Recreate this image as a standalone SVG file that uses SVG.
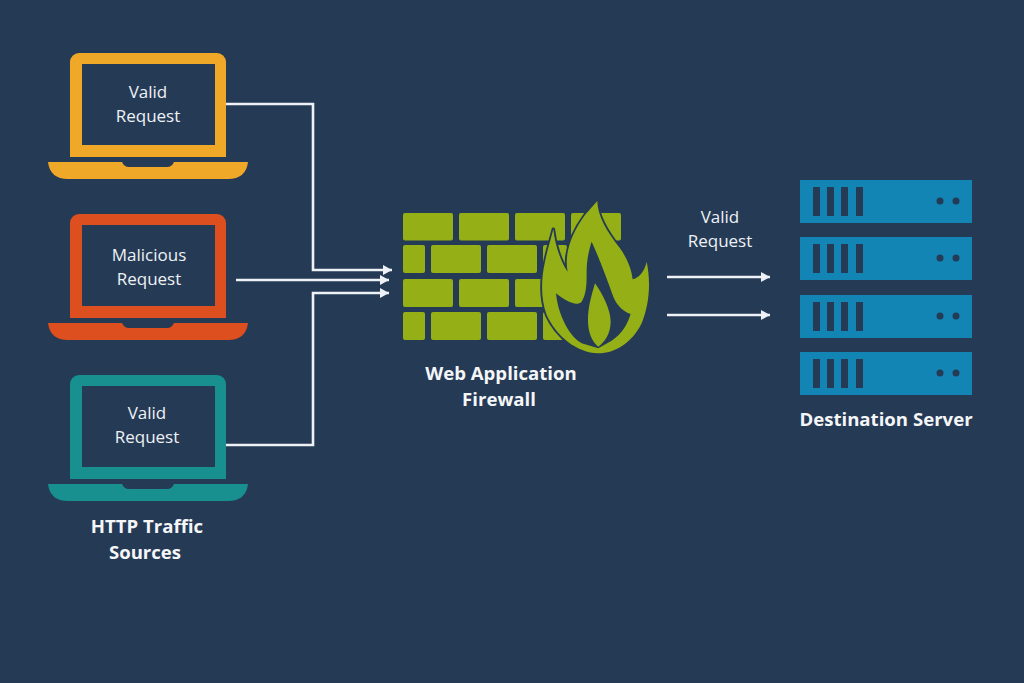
<svg xmlns="http://www.w3.org/2000/svg" width="1024" height="683" viewBox="0 0 1024 683">
<style>
.t{font-family:"Open Sans","Noto Sans","Liberation Sans",sans-serif;fill:#eef2f5;text-anchor:middle;font-size:17px;font-weight:500}
.b{font-family:"Open Sans","Noto Sans","Liberation Sans",sans-serif;fill:#f4f6f8;text-anchor:middle;font-size:18.600px;font-weight:700}
.c{fill:none;stroke:#eef2f6;stroke-width:2.6}
.br{fill:#94b016}
.sv{fill:#1285b5}
.d{fill:#253a55}
</style>
<defs>
<marker id="a" markerUnits="userSpaceOnUse" markerWidth="12" markerHeight="12" refX="9" refY="5" orient="auto"><path d="M0 0L9 5L0 10Z" fill="#eef2f6"/></marker>
<g id="lap">
<path d="M70 62a9 9 0 0 1 9-9H217a9 9 0 0 1 9 9V157H70Z"/>
<path d="M48 162H122q2 5 7 5H167q5 0 7-5H248q-2 17-20 17H68q-18 0-20-17Z"/>
<rect class="d" x="82" y="64" width="133" height="81"/>
</g>
<g id="srv">
<rect class="sv" x="800" y="180" width="172" height="43"/>
<rect class="d" x="813" y="187" width="7" height="29"/>
<rect class="d" x="827" y="187" width="7" height="29"/>
<rect class="d" x="841" y="187" width="7" height="29"/>
<rect class="d" x="856" y="187" width="7" height="29"/>
<circle class="d" cx="940" cy="201" r="3.500"/>
<circle class="d" cx="956" cy="201" r="3.500"/>
</g>
</defs>
<rect width="1024" height="683" fill="#253a55"/>
<g id="connectors">
<path class="c" d="M226 104H313V270H392" marker-end="url(#a)"/>
<path class="c" d="M236 280H389" marker-end="url(#a)"/>
<path class="c" d="M226 445H313V293H389" marker-end="url(#a)"/>
<path class="c" d="M667 277H770" marker-end="url(#a)"/>
<path class="c" d="M667 315H770" marker-end="url(#a)"/>
</g>
<g id="laptop-valid-1">
<use href="#lap" fill="#f0a828"/>
<text class="t" x="148" y="98">Valid</text>
<text class="t" x="148" y="122">Request</text>
</g>
<g id="laptop-malicious">
<use href="#lap" y="161" fill="#dd4f1f"/>
<text class="t" x="149" y="261">Malicious</text>
<text class="t" x="149" y="285">Request</text>
</g>
<g id="laptop-valid-2">
<use href="#lap" y="322" fill="#17908f"/>
<text class="t" x="147" y="419">Valid</text>
<text class="t" x="147" y="443">Request</text>
</g>
<g id="http-label">
<text class="b" x="147" y="533">HTTP Traffic</text>
<text class="b" x="145" y="559">Sources</text>
</g>
<g id="firewall">
<g class="br">
<rect x="403" y="213" width="50" height="27.500" rx="2"/><rect x="459" y="213" width="50" height="27.500" rx="2"/><rect x="515" y="213" width="50" height="27.500" rx="2"/><rect x="571" y="213" width="50" height="27.500" rx="2"/>
<rect x="403" y="245" width="22" height="28" rx="2"/><rect x="431" y="245" width="50" height="28" rx="2"/><rect x="487" y="245" width="50" height="28" rx="2"/><rect x="543" y="245" width="24" height="28" rx="2"/>
<rect x="403" y="279" width="50" height="28" rx="2"/><rect x="459" y="279" width="50" height="28" rx="2"/><rect x="515" y="279" width="40" height="28" rx="2"/>
<rect x="403" y="312" width="22" height="28" rx="2"/><rect x="431" y="312" width="50" height="28" rx="2"/><rect x="487" y="312" width="50" height="28" rx="2"/><rect x="543" y="312" width="20" height="28" rx="2"/>
</g>
<g transform="translate(390 190) scale(.3333)">
<path fill="#94b016" stroke="#253a55" stroke-width="11" stroke-linejoin="round" paint-order="stroke" d="M622 33C622 75 650 125 690 175C712 205 725 240 728 268C750 262 765 240 770 215C782 270 780 340 755 400C725 460 675 490 625 490C560 488 500 440 470 375C450 320 455 260 465 215C472 180 482 150 490 118C495 165 512 215 533 245C522 190 545 130 585 75C600 58 612 45 622 33Z"/>
<path fill="#253a55" d="M605 155C628 205 650 265 670 320C680 345 700 365 722 372C712 405 695 432 665 452L625 475L575 460C540 440 505 380 498 310C530 335 560 350 575 335C590 310 590 280 590 245C590 210 597 180 605 155Z"/>
<path fill="#94b016" d="M615 280C640 315 662 360 662 395C662 430 645 455 625 470C605 455 594 425 594 390C594 350 605 315 615 280Z"/>
</g>
<text class="b" x="501" y="380">Web Application</text>
<text class="b" x="499" y="406">Firewall</text>
</g>
<g id="valid-label">
<text class="t" x="720" y="223">Valid</text>
<text class="t" x="720" y="247">Request</text>
</g>
<g id="server">
<use href="#srv"/>
<use href="#srv" y="57"/>
<use href="#srv" y="115"/>
<use href="#srv" y="172"/>
<text class="b" x="886" y="426">Destination Server</text>
</g>
</svg>
